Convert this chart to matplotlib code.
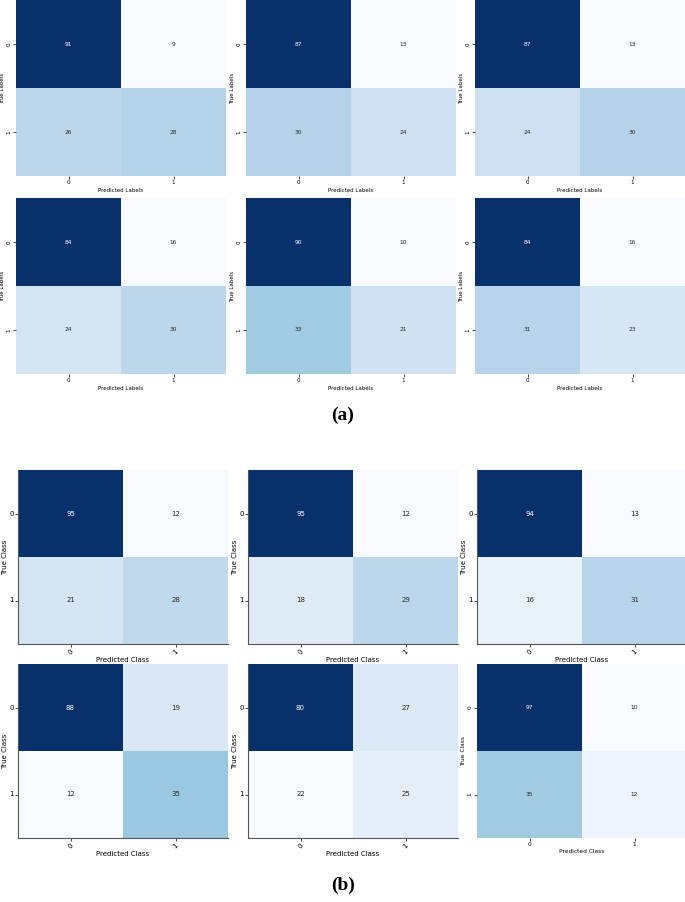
import matplotlib
matplotlib.use('Agg')
import matplotlib.pyplot as plt
from matplotlib.colors import PowerNorm
import seaborn as sns
import numpy as np

# confusion matrices, (a) panels read left->right, top->bottom
cm_a = [
    [[91, 9], [26, 28]],
    [[87, 13], [30, 24]],
    [[87, 13], [24, 30]],
    [[84, 16], [24, 30]],
    [[90, 10], [33, 21]],
    [[84, 16], [31, 23]],
]
cm_b = [
    [[95, 12], [21, 28]],
    [[95, 12], [18, 29]],
    [[94, 13], [16, 31]],
    [[88, 19], [12, 35]],
    [[80, 27], [22, 25]],
    [[97, 10], [35, 12]],
]
class_ticks = ['0', '1']
label_a = ('Predicted Labels', 'True Labels')
label_b = ('Predicted Class', 'True Class')

W, H = 685, 902
fig = plt.figure(figsize=(W / 100, H / 100), dpi=100)


def px_axes(left, top, width, height):
    # pixel box -> figure fraction
    return fig.add_axes([left / W, 1 - (top + height) / H, width / W, height / H])


def draw_cm(ax, cm, fs):
    cm = np.array(cm)
    sns.heatmap(cm, annot=True, fmt='d', cmap='Blues', cbar=False, ax=ax,
                norm=PowerNorm(0.8, vmin=cm.min(), vmax=cm.max()),
                annot_kws={'fontsize': fs},
                xticklabels=class_ticks, yticklabels=class_ticks)


# panel boxes in pixels (left, top, width, height)
lefts_a = [16, 246, 475]
tops_a = [0, 198]
lefts_b = [18, 248, 477]
tops_b = [470, 664]

for i, cm in enumerate(cm_a):
    r, c = divmod(i, 3)
    ax = px_axes(lefts_a[c], tops_a[r], 210, 176)
    draw_cm(ax, cm, 4.2)
    ax.tick_params(labelsize=4, length=2, width=0.5, pad=1)
    ax.set_xlabel(label_a[0], fontsize=4, labelpad=2)
    ax.set_ylabel(label_a[1], fontsize=4, labelpad=1)

for i, cm in enumerate(cm_b):
    r, c = divmod(i, 3)
    ax = px_axes(lefts_b[c], tops_b[r], 210, 174)
    last = (i == 5)
    fs = 4.2 if last else 5
    draw_cm(ax, cm, fs)
    ax.tick_params(labelsize=fs, length=2, width=0.5, pad=1)
    if not last:
        plt.setp(ax.get_xticklabels(), rotation=45)
        plt.setp(ax.get_yticklabels(), rotation=0)
        for side in ['left', 'bottom']:
            ax.spines[side].set_visible(True)
            ax.spines[side].set_color('#555555')
            ax.spines[side].set_linewidth(0.8)
    ax.set_xlabel(label_b[0], fontsize=fs, labelpad=1)
    ax.set_ylabel(label_b[1], fontsize=fs, labelpad=1)

fig.text(343 / W, 1 - 415 / H, '(a)', ha='center', va='center',
         fontsize=14, fontweight='bold', family='Liberation Serif')
fig.text(343 / W, 1 - 885 / H, '(b)', ha='center', va='center',
         fontsize=14, fontweight='bold', family='Liberation Serif')

fig.savefig('out.png', dpi=100)
